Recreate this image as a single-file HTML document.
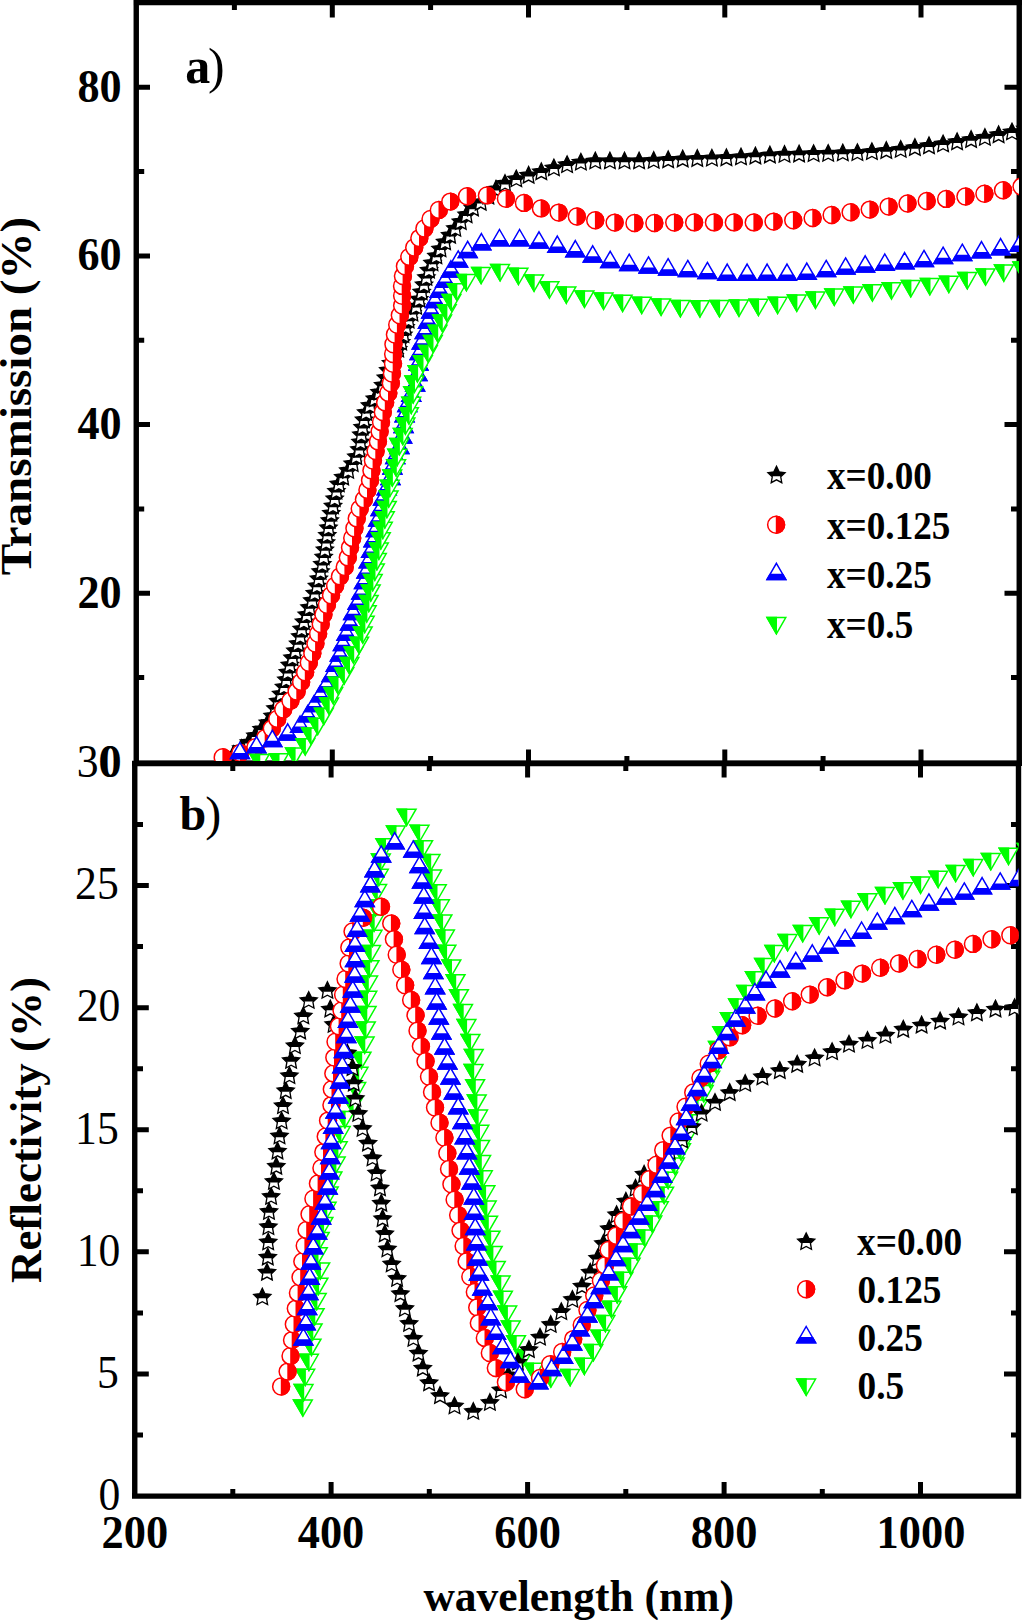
<!DOCTYPE html>
<html><head><meta charset="utf-8"><style>
html,body{margin:0;padding:0;background:#fff;}
svg{display:block;}
text{font-family:"Liberation Serif",serif;}
.b{font-weight:bold;}
</style></head><body>
<svg width="1022" height="1620" viewBox="0 0 1022 1620">
<defs>
<clipPath id="cst"><rect x="-12" y="-12" width="24" height="12.9"/></clipPath>
<clipPath id="cci"><rect x="-0.3" y="-12" width="12" height="24"/></clipPath>
<clipPath id="ctu"><rect x="-14" y="-0.3" width="28" height="14"/></clipPath>
<clipPath id="ctd"><rect x="-14" y="-14" width="14.6" height="28"/></clipPath>
<g id="st"><path d="M0.00,-9.00 L2.62,-3.60 L8.56,-2.78 L4.23,1.38 L5.29,7.28 L0.00,4.45 L-5.29,7.28 L-4.23,1.38 L-8.56,-2.78 L-2.62,-3.60 Z" fill="#fff" stroke="#000" stroke-width="1.35"/><path d="M0.00,-9.00 L2.62,-3.60 L8.56,-2.78 L4.23,1.38 L5.29,7.28 L0.00,4.45 L-5.29,7.28 L-4.23,1.38 L-8.56,-2.78 L-2.62,-3.60 Z" fill="#000" clip-path="url(#cst)"/></g>
<g id="ci"><circle r="8.45" fill="#fff" stroke="#f00" stroke-width="1.5"/><circle r="9.2" fill="#f00" clip-path="url(#cci)"/></g>
<g id="tu"><path d="M0,-10.8 L9.35,5.4 L-9.35,5.4 Z" fill="#fff" stroke="#00f" stroke-width="1.5"/><path d="M0,-10.8 L9.35,5.4 L-9.35,5.4 Z" fill="#00f" stroke="#00f" stroke-width="1.5" clip-path="url(#ctu)"/></g>
<g id="td"><path d="M0,10.8 L9.35,-5.4 L-9.35,-5.4 Z" fill="#fff" stroke="#0f0" stroke-width="1.5"/><path d="M0,10.8 L9.35,-5.4 L-9.35,-5.4 Z" fill="#0f0" stroke="#0f0" stroke-width="1.5" clip-path="url(#ctd)"/></g>
<clipPath id="ptop"><rect x="139" y="5.3" width="880" height="755.6"/></clipPath>
<clipPath id="pbot"><rect x="137.5" y="766" width="881" height="727.5"/></clipPath>
</defs>
<g fill="none" stroke="#000" stroke-width="5.4" stroke-linecap="butt">
<!-- top frame -->
<path d="M136.25,0 V765 M133.5,2.65 H1022 M1019.25,0 V765 M133.5,763.2 H1022"/>
<!-- bottom frame -->
<path d="M134.75,760.8 V1498.8 M132,763.5 H1021 M1018.5,760.8 V1498.8 M132,1496.1 H1021.2"/>
</g>
<g stroke="#000" stroke-width="5" fill="none">
<!-- top plot x ticks: top axis (down), bottom axis (up) -->
<path d="M332.3,2 V17.6 M528.5,2 V17.6 M724.8,2 V17.6 M921,2 V17.6 M234.4,2 V10 M430.6,2 V10 M626.9,2 V10 M823.1,2 V10"/>
<path d="M332.3,762 V749.4 M528.5,762 V749.4 M724.8,762 V749.4 M921,762 V749.4 M234.4,762 V756 M430.6,762 V756 M626.9,762 V756 M823.1,762 V756"/>
<!-- top plot y ticks -->
<path d="M136,87.2 H150 M136,255.9 H150 M136,424.6 H150 M136,593.3 H150 M136,171.5 H144.2 M136,340.2 H144.2 M136,508.9 H144.2 M136,677.6 H144.2"/>
<path d="M1019,87.2 H1004.5 M1019,255.9 H1004.5 M1019,424.6 H1004.5 M1019,593.3 H1004.5 M1019,171.5 H1011 M1019,340.2 H1011 M1019,508.9 H1011 M1019,677.6 H1011"/>
<!-- bottom plot x ticks: top axis (down), bottom axis (up) -->
<path d="M331.1,763 V777.5 M527.6,763 V777.5 M724.1,763 V777.5 M920.5,763 V777.5 M232.8,763 V771 M429.3,763 V771 M625.8,763 V771 M822.3,763 V771"/>
<path d="M331.1,1496 V1482 M527.6,1496 V1482 M724.1,1496 V1482 M920.5,1496 V1482 M232.8,1496 V1489 M429.3,1496 V1489 M625.8,1496 V1489 M822.3,1496 V1489"/>
<!-- bottom plot y ticks -->
<path d="M134.5,885.55 H148.8 M134.5,1007.65 H148.8 M134.5,1129.75 H148.8 M134.5,1251.85 H148.8 M134.5,1374 H148.8 M134.5,824.5 H143 M134.5,946.6 H143 M134.5,1068.7 H143 M134.5,1190.8 H143 M134.5,1312.9 H143 M134.5,1435 H143"/>
<path d="M1018.5,885.55 H1004 M1018.5,1007.65 H1004 M1018.5,1129.75 H1004 M1018.5,1251.85 H1004 M1018.5,1374 H1004 M1018.5,824.5 H1011 M1018.5,946.6 H1011 M1018.5,1068.7 H1011 M1018.5,1190.8 H1011 M1018.5,1312.9 H1011 M1018.5,1435 H1011"/>
</g>
<g clip-path="url(#ptop)"><use href="#st" x="225.5" y="761.0"/><use href="#st" x="233.4" y="754.9"/><use href="#st" x="241.3" y="748.8"/><use href="#st" x="248.8" y="742.7"/><use href="#st" x="255.4" y="736.1"/><use href="#st" x="261.6" y="729.4"/><use href="#st" x="267.8" y="723.0"/><use href="#st" x="272.6" y="716.3"/><use href="#st" x="275.4" y="708.7"/><use href="#st" x="278.1" y="701.4"/><use href="#st" x="281.1" y="694.2"/><use href="#st" x="284.0" y="687.2"/><use href="#st" x="286.3" y="680.0"/><use href="#st" x="287.8" y="672.5"/><use href="#st" x="289.8" y="665.3"/><use href="#st" x="292.5" y="658.1"/><use href="#st" x="295.4" y="651.1"/><use href="#st" x="298.1" y="643.9"/><use href="#st" x="300.2" y="636.7"/><use href="#st" x="301.7" y="629.3"/><use href="#st" x="303.9" y="622.0"/><use href="#st" x="306.7" y="615.0"/><use href="#st" x="309.5" y="607.8"/><use href="#st" x="312.2" y="600.7"/><use href="#st" x="314.8" y="593.5"/><use href="#st" x="317.0" y="586.3"/><use href="#st" x="318.8" y="579.0"/><use href="#st" x="320.6" y="571.8"/><use href="#st" x="322.3" y="564.5"/><use href="#st" x="323.7" y="557.2"/><use href="#st" x="324.9" y="549.9"/><use href="#st" x="326.1" y="542.7"/><use href="#st" x="327.3" y="535.4"/><use href="#st" x="328.5" y="528.1"/><use href="#st" x="329.8" y="520.8"/><use href="#st" x="331.3" y="513.5"/><use href="#st" x="333.0" y="506.3"/><use href="#st" x="334.7" y="499.0"/><use href="#st" x="336.4" y="491.5"/><use href="#st" x="338.8" y="484.2"/><use href="#st" x="343.2" y="477.4"/><use href="#st" x="348.2" y="470.8"/><use href="#st" x="352.7" y="464.0"/><use href="#st" x="356.3" y="456.9"/><use href="#st" x="359.3" y="449.7"/><use href="#st" x="360.5" y="442.3"/><use href="#st" x="361.3" y="434.9"/><use href="#st" x="362.6" y="427.5"/><use href="#st" x="364.0" y="420.1"/><use href="#st" x="366.1" y="412.7"/><use href="#st" x="369.9" y="405.7"/><use href="#st" x="374.8" y="399.1"/><use href="#st" x="379.5" y="392.4"/><use href="#st" x="383.1" y="385.4"/><use href="#st" x="385.8" y="378.0"/><use href="#st" x="388.2" y="370.6"/><use href="#st" x="391.0" y="363.4"/><use href="#st" x="394.6" y="356.4"/><use href="#st" x="398.2" y="349.5"/><use href="#st" x="401.2" y="342.4"/><use href="#st" x="403.4" y="335.0"/><use href="#st" x="405.6" y="327.6"/><use href="#st" x="408.6" y="320.4"/><use href="#st" x="412.4" y="313.5"/><use href="#st" x="416.2" y="306.7"/><use href="#st" x="419.3" y="299.5"/><use href="#st" x="421.7" y="292.2"/><use href="#st" x="424.0" y="284.9"/><use href="#st" x="426.4" y="277.7"/><use href="#st" x="429.0" y="270.4"/><use href="#st" x="432.5" y="263.3"/><use href="#st" x="436.4" y="256.3"/><use href="#st" x="440.5" y="249.2"/><use href="#st" x="445.1" y="242.3"/><use href="#st" x="450.1" y="235.6"/><use href="#st" x="455.3" y="228.7"/><use href="#st" x="460.8" y="221.9"/><use href="#st" x="466.6" y="215.1"/><use href="#st" x="473.0" y="208.4"/><use href="#st" x="480.7" y="202.6"/><use href="#st" x="488.4" y="196.4"/><use href="#st" x="496.0" y="189.6"/><use href="#st" x="505.0" y="183.7"/><use href="#st" x="516.3" y="179.2"/><use href="#st" x="528.6" y="175.6"/><use href="#st" x="541.3" y="172.1"/><use href="#st" x="553.9" y="168.2"/><use href="#st" x="567.1" y="165.0"/><use href="#st" x="580.9" y="162.5"/><use href="#st" x="595.3" y="161.3"/><use href="#st" x="609.9" y="161.3"/><use href="#st" x="624.5" y="161.3"/><use href="#st" x="639.1" y="161.3"/><use href="#st" x="653.7" y="160.8"/><use href="#st" x="668.2" y="160.1"/><use href="#st" x="682.7" y="159.4"/><use href="#st" x="697.3" y="158.9"/><use href="#st" x="711.9" y="158.5"/><use href="#st" x="726.4" y="158.1"/><use href="#st" x="741.0" y="157.3"/><use href="#st" x="755.4" y="156.4"/><use href="#st" x="769.9" y="155.4"/><use href="#st" x="784.5" y="154.8"/><use href="#st" x="799.1" y="154.4"/><use href="#st" x="813.6" y="154.0"/><use href="#st" x="828.2" y="153.7"/><use href="#st" x="842.8" y="153.3"/><use href="#st" x="857.4" y="153.0"/><use href="#st" x="871.9" y="152.0"/><use href="#st" x="886.3" y="150.9"/><use href="#st" x="900.7" y="149.7"/><use href="#st" x="914.9" y="147.9"/><use href="#st" x="929.0" y="146.1"/><use href="#st" x="943.1" y="144.2"/><use href="#st" x="957.1" y="142.1"/><use href="#st" x="971.1" y="139.9"/><use href="#st" x="984.9" y="137.8"/><use href="#st" x="998.6" y="135.1"/><use href="#st" x="1012.0" y="132.2"/><use href="#st" x="1025.3" y="129.1"/><use href="#ci" x="222.7" y="757.3"/><use href="#ci" x="240.3" y="752.9"/><use href="#ci" x="255.4" y="747.1"/><use href="#ci" x="265.0" y="738.1"/><use href="#ci" x="271.8" y="728.6"/><use href="#ci" x="277.2" y="718.9"/><use href="#ci" x="283.2" y="709.5"/><use href="#ci" x="290.4" y="700.8"/><use href="#ci" x="296.6" y="691.6"/><use href="#ci" x="301.1" y="681.9"/><use href="#ci" x="305.1" y="672.3"/><use href="#ci" x="308.8" y="662.7"/><use href="#ci" x="312.3" y="653.2"/><use href="#ci" x="315.4" y="643.5"/><use href="#ci" x="318.1" y="633.8"/><use href="#ci" x="320.7" y="624.1"/><use href="#ci" x="323.4" y="614.4"/><use href="#ci" x="326.9" y="604.8"/><use href="#ci" x="331.0" y="595.3"/><use href="#ci" x="335.1" y="585.7"/><use href="#ci" x="339.9" y="576.4"/><use href="#ci" x="344.7" y="567.1"/><use href="#ci" x="347.8" y="557.4"/><use href="#ci" x="350.0" y="547.6"/><use href="#ci" x="352.2" y="537.9"/><use href="#ci" x="354.4" y="528.2"/><use href="#ci" x="356.7" y="518.4"/><use href="#ci" x="359.7" y="508.8"/><use href="#ci" x="363.9" y="499.4"/><use href="#ci" x="367.4" y="489.9"/><use href="#ci" x="370.0" y="480.2"/><use href="#ci" x="371.4" y="470.4"/><use href="#ci" x="372.9" y="460.6"/><use href="#ci" x="375.6" y="451.0"/><use href="#ci" x="377.9" y="441.4"/><use href="#ci" x="379.6" y="431.6"/><use href="#ci" x="381.0" y="421.9"/><use href="#ci" x="382.8" y="412.1"/><use href="#ci" x="385.1" y="402.4"/><use href="#ci" x="388.3" y="392.9"/><use href="#ci" x="390.8" y="383.3"/><use href="#ci" x="391.9" y="373.5"/><use href="#ci" x="393.0" y="363.7"/><use href="#ci" x="393.1" y="354.0"/><use href="#ci" x="393.4" y="344.2"/><use href="#ci" x="394.9" y="334.5"/><use href="#ci" x="397.2" y="324.8"/><use href="#ci" x="399.8" y="315.2"/><use href="#ci" x="402.1" y="305.5"/><use href="#ci" x="402.1" y="295.8"/><use href="#ci" x="402.0" y="285.9"/><use href="#ci" x="402.9" y="276.1"/><use href="#ci" x="404.9" y="266.3"/><use href="#ci" x="409.3" y="256.9"/><use href="#ci" x="414.2" y="247.5"/><use href="#ci" x="419.3" y="238.1"/><use href="#ci" x="424.4" y="228.5"/><use href="#ci" x="430.5" y="219.0"/><use href="#ci" x="438.8" y="209.9"/><use href="#ci" x="450.3" y="201.6"/><use href="#ci" x="467.0" y="196.3"/><use href="#ci" x="486.9" y="195.4"/><use href="#ci" x="505.9" y="198.8"/><use href="#ci" x="523.9" y="202.9"/><use href="#ci" x="540.9" y="208.4"/><use href="#ci" x="558.6" y="212.6"/><use href="#ci" x="576.8" y="216.5"/><use href="#ci" x="595.2" y="220.3"/><use href="#ci" x="614.6" y="222.6"/><use href="#ci" x="634.4" y="223.0"/><use href="#ci" x="654.3" y="223.0"/><use href="#ci" x="674.2" y="222.6"/><use href="#ci" x="694.1" y="222.4"/><use href="#ci" x="713.9" y="222.4"/><use href="#ci" x="733.8" y="222.4"/><use href="#ci" x="753.7" y="222.4"/><use href="#ci" x="773.5" y="221.6"/><use href="#ci" x="793.2" y="220.3"/><use href="#ci" x="812.6" y="218.0"/><use href="#ci" x="831.6" y="215.0"/><use href="#ci" x="850.6" y="212.3"/><use href="#ci" x="869.7" y="209.6"/><use href="#ci" x="888.6" y="206.6"/><use href="#ci" x="907.5" y="203.5"/><use href="#ci" x="926.7" y="201.0"/><use href="#ci" x="946.1" y="198.9"/><use href="#ci" x="965.4" y="196.5"/><use href="#ci" x="984.4" y="193.8"/><use href="#ci" x="1003.0" y="190.2"/><use href="#ci" x="1021.5" y="186.6"/><use href="#tu" x="239.9" y="753.2"/><use href="#tu" x="256.5" y="747.4"/><use href="#tu" x="272.4" y="741.1"/><use href="#tu" x="287.7" y="734.6"/><use href="#tu" x="300.1" y="726.8"/><use href="#tu" x="307.7" y="716.4"/><use href="#tu" x="314.1" y="706.2"/><use href="#tu" x="320.3" y="696.3"/><use href="#tu" x="326.3" y="686.3"/><use href="#tu" x="331.5" y="676.2"/><use href="#tu" x="335.7" y="665.8"/><use href="#tu" x="339.8" y="655.6"/><use href="#tu" x="342.9" y="645.1"/><use href="#tu" x="346.4" y="634.8"/><use href="#tu" x="350.0" y="624.5"/><use href="#tu" x="353.2" y="614.0"/><use href="#tu" x="357.5" y="603.9"/><use href="#tu" x="361.3" y="593.7"/><use href="#tu" x="364.0" y="583.2"/><use href="#tu" x="366.4" y="572.7"/><use href="#tu" x="368.7" y="562.3"/><use href="#tu" x="371.1" y="551.9"/><use href="#tu" x="373.5" y="541.4"/><use href="#tu" x="375.8" y="531.0"/><use href="#tu" x="378.2" y="520.6"/><use href="#tu" x="380.6" y="510.1"/><use href="#tu" x="383.0" y="499.6"/><use href="#tu" x="386.7" y="489.4"/><use href="#tu" x="390.5" y="479.2"/><use href="#tu" x="392.4" y="468.6"/><use href="#tu" x="395.3" y="458.1"/><use href="#tu" x="399.4" y="448.0"/><use href="#tu" x="402.2" y="437.7"/><use href="#tu" x="403.6" y="427.1"/><use href="#tu" x="404.6" y="416.4"/><use href="#tu" x="407.3" y="406.1"/><use href="#tu" x="411.3" y="395.8"/><use href="#tu" x="415.2" y="385.6"/><use href="#tu" x="417.5" y="375.2"/><use href="#tu" x="418.5" y="364.6"/><use href="#tu" x="419.6" y="354.0"/><use href="#tu" x="421.7" y="343.6"/><use href="#tu" x="424.7" y="333.2"/><use href="#tu" x="427.9" y="322.9"/><use href="#tu" x="431.2" y="312.5"/><use href="#tu" x="434.9" y="302.1"/><use href="#tu" x="439.6" y="291.9"/><use href="#tu" x="445.1" y="281.8"/><use href="#tu" x="450.9" y="271.6"/><use href="#tu" x="458.2" y="261.7"/><use href="#tu" x="467.7" y="252.1"/><use href="#tu" x="481.4" y="244.4"/><use href="#tu" x="499.5" y="240.3"/><use href="#tu" x="519.6" y="240.3"/><use href="#tu" x="539.0" y="242.6"/><use href="#tu" x="557.3" y="246.9"/><use href="#tu" x="575.3" y="251.4"/><use href="#tu" x="592.7" y="256.6"/><use href="#tu" x="610.2" y="262.1"/><use href="#tu" x="629.2" y="265.0"/><use href="#tu" x="648.5" y="267.7"/><use href="#tu" x="668.1" y="269.5"/><use href="#tu" x="687.8" y="271.2"/><use href="#tu" x="707.4" y="273.2"/><use href="#tu" x="727.2" y="274.9"/><use href="#tu" x="747.1" y="274.9"/><use href="#tu" x="767.1" y="274.9"/><use href="#tu" x="787.0" y="274.9"/><use href="#tu" x="806.8" y="273.9"/><use href="#tu" x="826.2" y="271.2"/><use href="#tu" x="845.6" y="268.7"/><use href="#tu" x="865.2" y="266.6"/><use href="#tu" x="884.8" y="264.8"/><use href="#tu" x="904.6" y="263.4"/><use href="#tu" x="924.0" y="261.2"/><use href="#tu" x="943.1" y="258.0"/><use href="#tu" x="962.3" y="255.0"/><use href="#tu" x="981.5" y="252.4"/><use href="#tu" x="1000.6" y="249.4"/><use href="#tu" x="1019.5" y="245.9"/><use href="#td" x="259.7" y="760.0"/><use href="#td" x="278.9" y="759.2"/><use href="#td" x="295.0" y="753.3"/><use href="#td" x="305.3" y="744.1"/><use href="#td" x="311.0" y="733.3"/><use href="#td" x="317.8" y="723.6"/><use href="#td" x="323.9" y="713.6"/><use href="#td" x="329.1" y="703.5"/><use href="#td" x="333.3" y="693.0"/><use href="#td" x="337.9" y="682.7"/><use href="#td" x="344.3" y="673.1"/><use href="#td" x="349.4" y="662.9"/><use href="#td" x="353.6" y="652.4"/><use href="#td" x="359.2" y="642.6"/><use href="#td" x="362.8" y="632.3"/><use href="#td" x="364.8" y="621.7"/><use href="#td" x="366.8" y="611.2"/><use href="#td" x="368.8" y="600.8"/><use href="#td" x="370.8" y="590.3"/><use href="#td" x="372.8" y="579.9"/><use href="#td" x="374.9" y="569.4"/><use href="#td" x="376.9" y="559.0"/><use href="#td" x="378.9" y="548.5"/><use href="#td" x="380.9" y="538.1"/><use href="#td" x="382.9" y="527.7"/><use href="#td" x="384.9" y="517.2"/><use href="#td" x="386.9" y="506.8"/><use href="#td" x="388.7" y="496.3"/><use href="#td" x="389.9" y="485.7"/><use href="#td" x="392.3" y="475.3"/><use href="#td" x="396.2" y="465.2"/><use href="#td" x="397.3" y="454.6"/><use href="#td" x="399.3" y="444.0"/><use href="#td" x="402.8" y="433.8"/><use href="#td" x="405.5" y="423.4"/><use href="#td" x="409.0" y="413.1"/><use href="#td" x="411.3" y="402.7"/><use href="#td" x="413.2" y="392.1"/><use href="#td" x="414.4" y="381.5"/><use href="#td" x="417.5" y="371.1"/><use href="#td" x="422.9" y="361.2"/><use href="#td" x="428.0" y="351.0"/><use href="#td" x="432.9" y="340.9"/><use href="#td" x="437.6" y="330.7"/><use href="#td" x="442.2" y="320.5"/><use href="#td" x="446.8" y="310.2"/><use href="#td" x="451.5" y="299.9"/><use href="#td" x="456.7" y="289.2"/><use href="#td" x="466.5" y="279.9"/><use href="#td" x="481.1" y="272.8"/><use href="#td" x="500.1" y="270.0"/><use href="#td" x="518.5" y="273.7"/><use href="#td" x="534.1" y="280.4"/><use href="#td" x="549.5" y="287.2"/><use href="#td" x="566.4" y="292.4"/><use href="#td" x="584.5" y="296.5"/><use href="#td" x="603.6" y="298.5"/><use href="#td" x="622.7" y="300.6"/><use href="#td" x="641.8" y="302.7"/><use href="#td" x="661.1" y="304.5"/><use href="#td" x="680.4" y="306.0"/><use href="#td" x="700.0" y="306.1"/><use href="#td" x="719.5" y="306.0"/><use href="#td" x="739.0" y="305.5"/><use href="#td" x="758.5" y="304.7"/><use href="#td" x="777.7" y="302.7"/><use href="#td" x="796.8" y="300.5"/><use href="#td" x="815.5" y="297.5"/><use href="#td" x="834.3" y="294.5"/><use href="#td" x="853.4" y="292.3"/><use href="#td" x="872.5" y="290.2"/><use href="#td" x="891.6" y="288.1"/><use href="#td" x="910.8" y="286.0"/><use href="#td" x="929.9" y="283.9"/><use href="#td" x="948.9" y="281.6"/><use href="#td" x="967.3" y="278.0"/><use href="#td" x="985.6" y="274.3"/><use href="#td" x="1003.9" y="270.4"/><use href="#td" x="1022.4" y="267.3"/></g>
<g clip-path="url(#pbot)"><use href="#td" x="302.9" y="1405.3"/><use href="#td" x="303.6" y="1390.0"/><use href="#td" x="305.3" y="1374.7"/><use href="#td" x="309.0" y="1359.7"/><use href="#td" x="311.6" y="1344.6"/><use href="#td" x="312.7" y="1329.3"/><use href="#td" x="314.7" y="1314.1"/><use href="#td" x="316.8" y="1298.9"/><use href="#td" x="318.5" y="1283.6"/><use href="#td" x="320.3" y="1268.3"/><use href="#td" x="317.9" y="1253.1"/><use href="#td" x="319.8" y="1237.8"/><use href="#td" x="323.5" y="1222.8"/><use href="#td" x="326.7" y="1207.7"/><use href="#td" x="328.8" y="1192.5"/><use href="#td" x="332.5" y="1177.5"/><use href="#td" x="335.8" y="1162.4"/><use href="#td" x="337.8" y="1147.2"/><use href="#td" x="340.8" y="1132.0"/><use href="#td" x="345.0" y="1116.9"/><use href="#td" x="353.0" y="1103.3"/><use href="#td" x="356.3" y="1088.0"/><use href="#td" x="358.6" y="1072.7"/><use href="#td" x="361.6" y="1057.6"/><use href="#td" x="364.7" y="1042.5"/><use href="#td" x="365.9" y="1027.3"/><use href="#td" x="366.7" y="1012.0"/><use href="#td" x="367.4" y="996.7"/><use href="#td" x="368.2" y="981.4"/><use href="#td" x="369.6" y="966.1"/><use href="#td" x="371.1" y="950.9"/><use href="#td" x="372.6" y="935.7"/><use href="#td" x="374.1" y="920.4"/><use href="#td" x="375.6" y="905.2"/><use href="#td" x="377.2" y="889.9"/><use href="#td" x="378.9" y="874.7"/><use href="#td" x="380.9" y="859.3"/><use href="#td" x="385.4" y="844.2"/><use href="#td" x="395.9" y="831.4"/><use href="#td" x="406.7" y="814.6"/><use href="#td" x="419.6" y="830.7"/><use href="#td" x="423.2" y="846.1"/><use href="#td" x="430.6" y="860.0"/><use href="#td" x="432.1" y="875.5"/><use href="#td" x="436.9" y="890.2"/><use href="#td" x="440.0" y="905.2"/><use href="#td" x="442.5" y="920.3"/><use href="#td" x="445.0" y="935.4"/><use href="#td" x="446.5" y="950.6"/><use href="#td" x="451.4" y="965.3"/><use href="#td" x="455.6" y="980.1"/><use href="#td" x="459.0" y="995.1"/><use href="#td" x="463.1" y="1009.9"/><use href="#td" x="466.5" y="1024.9"/><use href="#td" x="470.5" y="1039.8"/><use href="#td" x="473.8" y="1054.8"/><use href="#td" x="473.6" y="1070.0"/><use href="#td" x="475.2" y="1085.1"/><use href="#td" x="476.8" y="1100.3"/><use href="#td" x="478.1" y="1115.5"/><use href="#td" x="479.4" y="1130.7"/><use href="#td" x="480.2" y="1145.8"/><use href="#td" x="481.2" y="1161.0"/><use href="#td" x="482.9" y="1176.2"/><use href="#td" x="485.5" y="1191.2"/><use href="#td" x="486.8" y="1206.4"/><use href="#td" x="488.2" y="1221.6"/><use href="#td" x="490.6" y="1236.6"/><use href="#td" x="492.8" y="1251.8"/><use href="#td" x="495.9" y="1266.8"/><use href="#td" x="500.7" y="1281.4"/><use href="#td" x="503.0" y="1296.6"/><use href="#td" x="507.3" y="1311.4"/><use href="#td" x="510.8" y="1326.4"/><use href="#td" x="516.1" y="1341.1"/><use href="#td" x="523.6" y="1355.2"/><use href="#td" x="533.5" y="1368.7"/><use href="#td" x="550.9" y="1376.3"/><use href="#td" x="570.2" y="1374.9"/><use href="#td" x="584.4" y="1363.6"/><use href="#td" x="593.4" y="1350.0"/><use href="#td" x="600.4" y="1335.7"/><use href="#td" x="605.5" y="1320.9"/><use href="#td" x="611.6" y="1306.6"/><use href="#td" x="617.3" y="1292.1"/><use href="#td" x="623.6" y="1277.7"/><use href="#td" x="630.7" y="1263.7"/><use href="#td" x="637.2" y="1249.3"/><use href="#td" x="644.9" y="1235.5"/><use href="#td" x="652.4" y="1221.5"/><use href="#td" x="658.9" y="1207.2"/><use href="#td" x="664.2" y="1192.6"/><use href="#td" x="668.2" y="1177.7"/><use href="#td" x="674.9" y="1163.5"/><use href="#td" x="681.1" y="1149.1"/><use href="#td" x="687.1" y="1134.7"/><use href="#td" x="692.6" y="1120.1"/><use href="#td" x="698.0" y="1105.5"/><use href="#td" x="703.8" y="1091.0"/><use href="#td" x="710.3" y="1076.7"/><use href="#td" x="716.6" y="1062.4"/><use href="#td" x="718.0" y="1047.0"/><use href="#td" x="722.3" y="1032.2"/><use href="#td" x="729.9" y="1018.2"/><use href="#td" x="738.1" y="1004.5"/><use href="#td" x="746.3" y="990.8"/><use href="#td" x="754.9" y="977.2"/><use href="#td" x="764.1" y="963.8"/><use href="#td" x="774.4" y="950.9"/><use href="#td" x="787.6" y="940.0"/><use href="#td" x="802.8" y="930.9"/><use href="#td" x="819.2" y="923.2"/><use href="#td" x="834.9" y="914.6"/><use href="#td" x="851.0" y="906.6"/><use href="#td" x="867.6" y="899.1"/><use href="#td" x="885.0" y="893.0"/><use href="#td" x="903.0" y="888.1"/><use href="#td" x="920.6" y="882.5"/><use href="#td" x="938.2" y="876.6"/><use href="#td" x="955.7" y="870.8"/><use href="#td" x="973.3" y="864.9"/><use href="#td" x="990.8" y="859.0"/><use href="#td" x="1008.6" y="853.6"/><use href="#td" x="1026.6" y="848.9"/><use href="#st" x="262.3" y="1297.3"/><use href="#st" x="267.0" y="1272.6"/><use href="#st" x="267.8" y="1257.4"/><use href="#st" x="268.2" y="1242.2"/><use href="#st" x="268.4" y="1227.0"/><use href="#st" x="269.0" y="1211.8"/><use href="#st" x="271.1" y="1196.7"/><use href="#st" x="273.9" y="1181.7"/><use href="#st" x="276.3" y="1166.6"/><use href="#st" x="277.5" y="1151.4"/><use href="#st" x="279.5" y="1136.3"/><use href="#st" x="281.6" y="1121.2"/><use href="#st" x="283.0" y="1106.0"/><use href="#st" x="285.7" y="1090.9"/><use href="#st" x="289.4" y="1076.0"/><use href="#st" x="291.1" y="1060.8"/><use href="#st" x="294.9" y="1046.0"/><use href="#st" x="300.2" y="1031.4"/><use href="#st" x="303.3" y="1016.2"/><use href="#st" x="308.7" y="1000.7"/><use href="#st" x="327.4" y="990.8"/><use href="#st" x="330.3" y="1009.4"/><use href="#st" x="333.6" y="1024.7"/><use href="#st" x="339.8" y="1039.2"/><use href="#st" x="347.3" y="1053.3"/><use href="#st" x="352.5" y="1068.0"/><use href="#st" x="353.8" y="1083.4"/><use href="#st" x="355.4" y="1098.7"/><use href="#st" x="358.3" y="1113.8"/><use href="#st" x="362.6" y="1128.8"/><use href="#st" x="368.0" y="1143.4"/><use href="#st" x="372.5" y="1158.3"/><use href="#st" x="376.6" y="1173.2"/><use href="#st" x="380.0" y="1188.3"/><use href="#st" x="381.3" y="1203.6"/><use href="#st" x="382.6" y="1218.9"/><use href="#st" x="384.8" y="1234.1"/><use href="#st" x="387.4" y="1249.3"/><use href="#st" x="391.7" y="1264.2"/><use href="#st" x="397.1" y="1278.8"/><use href="#st" x="400.4" y="1293.9"/><use href="#st" x="404.9" y="1308.8"/><use href="#st" x="409.1" y="1323.7"/><use href="#st" x="413.4" y="1338.7"/><use href="#st" x="418.5" y="1353.4"/><use href="#st" x="422.8" y="1368.4"/><use href="#st" x="429.1" y="1383.1"/><use href="#st" x="440.0" y="1395.9"/><use href="#st" x="454.5" y="1406.2"/><use href="#st" x="473.3" y="1411.8"/><use href="#st" x="489.9" y="1402.8"/><use href="#st" x="500.9" y="1390.2"/><use href="#st" x="508.3" y="1375.6"/><use href="#st" x="517.9" y="1362.5"/><use href="#st" x="528.9" y="1349.9"/><use href="#st" x="540.0" y="1337.5"/><use href="#st" x="550.7" y="1324.8"/><use href="#st" x="561.3" y="1312.0"/><use href="#st" x="572.4" y="1299.7"/><use href="#st" x="582.0" y="1286.4"/><use href="#st" x="590.2" y="1272.6"/><use href="#st" x="597.6" y="1258.5"/><use href="#st" x="603.4" y="1243.8"/><use href="#st" x="609.2" y="1229.1"/><use href="#st" x="616.6" y="1215.0"/><use href="#st" x="625.9" y="1201.6"/><use href="#st" x="635.5" y="1188.5"/><use href="#st" x="644.1" y="1174.6"/><use href="#st" x="656.7" y="1163.1"/><use href="#st" x="669.5" y="1151.7"/><use href="#st" x="682.1" y="1140.3"/><use href="#st" x="691.8" y="1127.0"/><use href="#st" x="701.6" y="1113.5"/><use href="#st" x="715.0" y="1102.7"/><use href="#st" x="729.7" y="1092.9"/><use href="#st" x="745.2" y="1083.8"/><use href="#st" x="762.4" y="1077.1"/><use href="#st" x="779.8" y="1070.9"/><use href="#st" x="797.2" y="1064.6"/><use href="#st" x="814.6" y="1058.2"/><use href="#st" x="832.1" y="1052.0"/><use href="#st" x="849.0" y="1044.5"/><use href="#st" x="867.5" y="1040.7"/><use href="#st" x="885.5" y="1035.5"/><use href="#st" x="903.3" y="1029.6"/><use href="#st" x="921.6" y="1025.4"/><use href="#st" x="940.1" y="1021.4"/><use href="#st" x="958.5" y="1017.2"/><use href="#st" x="976.9" y="1013.1"/><use href="#st" x="995.5" y="1009.4"/><use href="#st" x="1014.6" y="1008.0"/><use href="#ci" x="281.1" y="1386.5"/><use href="#ci" x="287.6" y="1371.6"/><use href="#ci" x="290.5" y="1355.9"/><use href="#ci" x="292.0" y="1340.1"/><use href="#ci" x="293.8" y="1324.3"/><use href="#ci" x="295.8" y="1308.6"/><use href="#ci" x="297.9" y="1292.9"/><use href="#ci" x="300.5" y="1277.2"/><use href="#ci" x="302.3" y="1261.4"/><use href="#ci" x="304.7" y="1245.7"/><use href="#ci" x="306.5" y="1229.9"/><use href="#ci" x="309.5" y="1214.3"/><use href="#ci" x="313.4" y="1198.8"/><use href="#ci" x="317.9" y="1183.4"/><use href="#ci" x="321.4" y="1167.9"/><use href="#ci" x="323.3" y="1152.1"/><use href="#ci" x="325.7" y="1136.4"/><use href="#ci" x="328.0" y="1120.6"/><use href="#ci" x="331.4" y="1105.1"/><use href="#ci" x="331.8" y="1089.2"/><use href="#ci" x="333.3" y="1073.4"/><use href="#ci" x="334.3" y="1057.6"/><use href="#ci" x="335.5" y="1041.8"/><use href="#ci" x="338.9" y="1026.2"/><use href="#ci" x="341.5" y="1010.5"/><use href="#ci" x="343.1" y="994.7"/><use href="#ci" x="345.5" y="979.0"/><use href="#ci" x="348.6" y="963.5"/><use href="#ci" x="349.3" y="947.5"/><use href="#ci" x="352.5" y="931.5"/><use href="#ci" x="363.1" y="917.7"/><use href="#ci" x="381.0" y="906.7"/><use href="#ci" x="391.2" y="923.4"/><use href="#ci" x="393.9" y="939.2"/><use href="#ci" x="396.7" y="954.7"/><use href="#ci" x="401.3" y="969.8"/><use href="#ci" x="405.1" y="985.2"/><use href="#ci" x="411.1" y="1000.0"/><use href="#ci" x="415.5" y="1015.2"/><use href="#ci" x="417.5" y="1030.8"/><use href="#ci" x="420.9" y="1046.2"/><use href="#ci" x="425.5" y="1061.3"/><use href="#ci" x="429.0" y="1076.7"/><use href="#ci" x="432.0" y="1092.1"/><use href="#ci" x="435.0" y="1107.6"/><use href="#ci" x="439.5" y="1122.8"/><use href="#ci" x="444.4" y="1137.8"/><use href="#ci" x="447.3" y="1153.3"/><use href="#ci" x="449.0" y="1168.9"/><use href="#ci" x="451.4" y="1184.3"/><use href="#ci" x="454.6" y="1199.7"/><use href="#ci" x="458.1" y="1215.1"/><use href="#ci" x="460.5" y="1230.6"/><use href="#ci" x="463.6" y="1246.0"/><use href="#ci" x="466.6" y="1261.4"/><use href="#ci" x="470.3" y="1276.7"/><use href="#ci" x="474.8" y="1291.9"/><use href="#ci" x="477.2" y="1307.4"/><use href="#ci" x="478.8" y="1323.1"/><use href="#ci" x="484.8" y="1337.9"/><use href="#ci" x="489.8" y="1353.0"/><use href="#ci" x="495.8" y="1368.1"/><use href="#ci" x="505.9" y="1382.3"/><use href="#ci" x="524.7" y="1389.2"/><use href="#ci" x="540.0" y="1378.0"/><use href="#ci" x="550.2" y="1364.2"/><use href="#ci" x="562.1" y="1352.0"/><use href="#ci" x="573.2" y="1339.1"/><use href="#ci" x="581.7" y="1325.0"/><use href="#ci" x="587.4" y="1310.0"/><use href="#ci" x="594.2" y="1295.4"/><use href="#ci" x="600.9" y="1280.8"/><use href="#ci" x="604.9" y="1265.4"/><use href="#ci" x="608.6" y="1249.9"/><use href="#ci" x="616.2" y="1235.7"/><use href="#ci" x="622.9" y="1220.9"/><use href="#ci" x="630.9" y="1206.5"/><use href="#ci" x="641.9" y="1193.9"/><use href="#ci" x="649.4" y="1179.3"/><use href="#ci" x="656.5" y="1164.7"/><use href="#ci" x="663.2" y="1150.1"/><use href="#ci" x="670.6" y="1135.6"/><use href="#ci" x="678.5" y="1121.4"/><use href="#ci" x="685.5" y="1106.8"/><use href="#ci" x="693.2" y="1092.5"/><use href="#ci" x="700.4" y="1077.9"/><use href="#ci" x="708.7" y="1063.8"/><use href="#ci" x="718.4" y="1050.2"/><use href="#ci" x="729.6" y="1037.4"/><use href="#ci" x="742.1" y="1025.3"/><use href="#ci" x="757.6" y="1015.8"/><use href="#ci" x="774.8" y="1008.5"/><use href="#ci" x="792.1" y="1001.3"/><use href="#ci" x="809.7" y="994.6"/><use href="#ci" x="827.0" y="987.3"/><use href="#ci" x="844.5" y="980.4"/><use href="#ci" x="862.0" y="973.6"/><use href="#ci" x="880.2" y="967.8"/><use href="#ci" x="898.9" y="963.5"/><use href="#ci" x="917.6" y="959.0"/><use href="#ci" x="936.3" y="954.7"/><use href="#ci" x="954.8" y="949.8"/><use href="#ci" x="972.9" y="943.9"/><use href="#ci" x="991.5" y="939.3"/><use href="#ci" x="1010.3" y="935.2"/><use href="#ci" x="1028.9" y="930.3"/><use href="#tu" x="303.4" y="1339.5"/><use href="#tu" x="305.8" y="1324.4"/><use href="#tu" x="307.2" y="1309.2"/><use href="#tu" x="308.4" y="1294.0"/><use href="#tu" x="309.7" y="1278.8"/><use href="#tu" x="310.9" y="1263.6"/><use href="#tu" x="313.3" y="1248.4"/><use href="#tu" x="317.2" y="1233.5"/><use href="#tu" x="321.2" y="1218.6"/><use href="#tu" x="325.0" y="1203.7"/><use href="#tu" x="327.7" y="1188.6"/><use href="#tu" x="329.2" y="1173.4"/><use href="#tu" x="330.3" y="1158.2"/><use href="#tu" x="331.1" y="1143.0"/><use href="#tu" x="333.2" y="1127.8"/><use href="#tu" x="335.5" y="1112.7"/><use href="#tu" x="338.3" y="1097.6"/><use href="#tu" x="340.1" y="1082.5"/><use href="#tu" x="342.3" y="1067.3"/><use href="#tu" x="343.9" y="1052.1"/><use href="#tu" x="346.3" y="1037.0"/><use href="#tu" x="347.9" y="1021.8"/><use href="#tu" x="350.3" y="1006.7"/><use href="#tu" x="352.8" y="991.6"/><use href="#tu" x="354.7" y="976.5"/><use href="#tu" x="355.0" y="961.2"/><use href="#tu" x="355.0" y="945.9"/><use href="#tu" x="357.1" y="930.8"/><use href="#tu" x="360.0" y="915.7"/><use href="#tu" x="364.8" y="901.0"/><use href="#tu" x="370.4" y="886.4"/><use href="#tu" x="374.5" y="871.4"/><use href="#tu" x="381.2" y="856.7"/><use href="#tu" x="394.7" y="843.4"/><use href="#tu" x="413.3" y="851.7"/><use href="#tu" x="419.4" y="867.2"/><use href="#tu" x="422.0" y="882.5"/><use href="#tu" x="423.8" y="897.6"/><use href="#tu" x="423.9" y="912.9"/><use href="#tu" x="424.7" y="928.1"/><use href="#tu" x="429.0" y="942.9"/><use href="#tu" x="431.4" y="958.0"/><use href="#tu" x="433.4" y="973.2"/><use href="#tu" x="435.2" y="988.3"/><use href="#tu" x="436.7" y="1003.5"/><use href="#tu" x="438.8" y="1018.6"/><use href="#tu" x="441.5" y="1033.6"/><use href="#tu" x="444.5" y="1048.6"/><use href="#tu" x="447.5" y="1063.6"/><use href="#tu" x="450.5" y="1078.6"/><use href="#tu" x="453.8" y="1093.6"/><use href="#tu" x="458.2" y="1108.4"/><use href="#tu" x="462.5" y="1123.2"/><use href="#tu" x="464.7" y="1138.3"/><use href="#tu" x="466.9" y="1153.4"/><use href="#tu" x="469.3" y="1168.5"/><use href="#tu" x="471.6" y="1183.6"/><use href="#tu" x="473.8" y="1198.7"/><use href="#tu" x="474.1" y="1213.9"/><use href="#tu" x="475.2" y="1229.1"/><use href="#tu" x="476.4" y="1244.3"/><use href="#tu" x="477.5" y="1259.5"/><use href="#tu" x="478.9" y="1274.7"/><use href="#tu" x="482.3" y="1289.7"/><use href="#tu" x="487.7" y="1304.2"/><use href="#tu" x="490.8" y="1319.3"/><use href="#tu" x="496.0" y="1333.9"/><use href="#tu" x="502.6" y="1348.2"/><use href="#tu" x="510.4" y="1362.1"/><use href="#tu" x="519.5" y="1376.5"/><use href="#tu" x="538.4" y="1383.4"/><use href="#tu" x="551.6" y="1370.1"/><use href="#tu" x="563.2" y="1357.9"/><use href="#tu" x="572.3" y="1344.5"/><use href="#tu" x="579.7" y="1330.4"/><use href="#tu" x="587.4" y="1316.6"/><use href="#tu" x="593.8" y="1302.2"/><use href="#tu" x="600.9" y="1288.0"/><use href="#tu" x="608.7" y="1274.3"/><use href="#tu" x="615.9" y="1260.2"/><use href="#tu" x="623.0" y="1246.0"/><use href="#tu" x="630.4" y="1232.0"/><use href="#tu" x="639.1" y="1218.5"/><use href="#tu" x="647.2" y="1204.8"/><use href="#tu" x="655.2" y="1191.0"/><use href="#tu" x="662.2" y="1176.9"/><use href="#tu" x="668.8" y="1162.6"/><use href="#tu" x="675.1" y="1148.3"/><use href="#tu" x="681.1" y="1133.9"/><use href="#tu" x="686.2" y="1119.2"/><use href="#tu" x="691.2" y="1104.5"/><use href="#tu" x="697.2" y="1090.0"/><use href="#tu" x="704.3" y="1076.0"/><use href="#tu" x="711.7" y="1062.0"/><use href="#tu" x="718.8" y="1047.8"/><use href="#tu" x="726.9" y="1034.1"/><use href="#tu" x="735.5" y="1020.5"/><use href="#tu" x="745.3" y="1007.5"/><use href="#tu" x="754.9" y="994.3"/><use href="#tu" x="766.0" y="981.9"/><use href="#tu" x="780.0" y="971.5"/><use href="#tu" x="795.8" y="963.1"/><use href="#tu" x="812.3" y="955.6"/><use href="#tu" x="828.6" y="947.7"/><use href="#tu" x="845.1" y="940.3"/><use href="#tu" x="861.6" y="932.8"/><use href="#tu" x="877.3" y="923.7"/><use href="#tu" x="894.8" y="918.2"/><use href="#tu" x="911.8" y="911.2"/><use href="#tu" x="928.9" y="904.7"/><use href="#tu" x="946.3" y="898.5"/><use href="#tu" x="964.3" y="893.7"/><use href="#tu" x="982.1" y="888.4"/><use href="#tu" x="1000.2" y="883.7"/><use href="#tu" x="1018.6" y="880.0"/></g>
<!-- top tick labels (bold) -->
<g class="b" font-size="47.5" text-anchor="end">
<text transform="translate(121.6,101.7) scale(0.93,1)">80</text>
<text transform="translate(121.6,270.4) scale(0.93,1)">60</text>
<text transform="translate(121.6,438.9) scale(0.93,1)">40</text>
<text transform="translate(121.6,607.6) scale(0.93,1)">20</text>
</g>
<!-- bottom tick labels (regular) -->
<g font-size="46" text-anchor="end">
<text transform="translate(120.4,777) scale(0.95,1)">30</text>
<text transform="translate(118.8,899.3) scale(0.95,1)">25</text>
<text transform="translate(120.4,1021.4) scale(0.95,1)">20</text>
<text transform="translate(118.8,1143.6) scale(0.95,1)">15</text>
<text transform="translate(120.4,1265.6) scale(0.95,1)">10</text>
<text transform="translate(118.8,1387.8) scale(0.95,1)">5</text>
<text transform="translate(120.4,1509.8) scale(0.95,1)">0</text>
</g>
<text class="b" font-size="47.5" text-anchor="end" transform="translate(121.6,776.6) scale(0.93,1)">0</text>
<!-- x labels -->
<g class="b" font-size="46.5" text-anchor="middle">
<text transform="translate(134.8,1547.8) scale(0.955,1)">200</text>
<text transform="translate(331,1547.8) scale(0.955,1)">400</text>
<text transform="translate(527.6,1547.8) scale(0.955,1)">600</text>
<text transform="translate(724.1,1547.8) scale(0.955,1)">800</text>
<text transform="translate(921,1547.8) scale(0.955,1)">1000</text>
</g>
<text class="b" font-size="45" text-anchor="middle" transform="translate(578.7,1610.8) scale(0.967,1)">wavelength (nm)</text>
<text class="b" font-size="45" text-anchor="middle" transform="translate(31,396) rotate(-90) scale(1.045,1)">Transmission (%)</text>
<text class="b" font-size="45" text-anchor="middle" transform="translate(40.9,1130) rotate(-90)">Reflectivity (%)</text>
<text font-size="50" x="185.2" y="83"><tspan class="b">a</tspan><tspan dx="-2.2">)</tspan></text>
<text font-size="48" x="179.4" y="829.7"><tspan class="b">b</tspan><tspan dx="-0.8">)</tspan></text>
<!-- legends -->
<use href="#st" x="776.5" y="475.4"/><use href="#ci" x="776.1" y="524.7"/><use href="#tu" x="776.4" y="574.1"/><use href="#td" x="776.4" y="623"/>
<g class="b" font-size="40">
<text transform="translate(827,489.4) scale(0.93,1)">x=0.00</text>
<text transform="translate(827,538.9) scale(0.93,1)">x=0.125</text>
<text transform="translate(827,588.4) scale(0.93,1)">x=0.25</text>
<text transform="translate(827,637.7) scale(0.93,1)">x=0.5</text>
</g>
<use href="#st" x="806.2" y="1242"/><use href="#ci" x="806.1" y="1289.2"/><use href="#tu" x="806.2" y="1337.3"/><use href="#td" x="806.2" y="1384.5"/>
<g class="b" font-size="39.5">
<text transform="translate(857,1255.2) scale(0.945,1)">x=0.00</text>
<text transform="translate(857.5,1302.9) scale(0.945,1)">0.125</text>
<text transform="translate(857.5,1350.9) scale(0.945,1)">0.25</text>
<text transform="translate(857.5,1398.7) scale(0.945,1)">0.5</text>
</g>
</svg>
</body></html>
